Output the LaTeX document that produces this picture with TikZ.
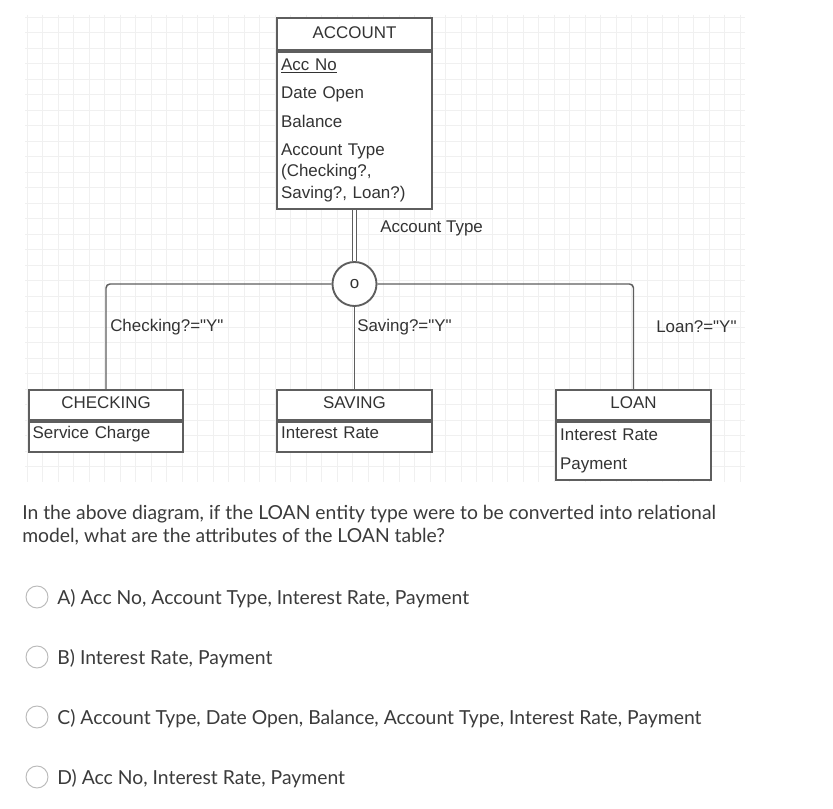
\documentclass[tikz,border=0pt]{standalone}
\usepackage{fontspec}
\setmainfont{Liberation Sans}
\newfontfamily\quizfont{Lato}
\usepackage{xcolor}
\usetikzlibrary{positioning, calc}
\definecolor{lineGray}{HTML}{5E5E5E}
\definecolor{textGray}{HTML}{333333}
\definecolor{gridGray}{HTML}{F0F0F0}
\definecolor{quizGray}{HTML}{3B3B3B}
\tikzset{
  entity/.style={rectangle, draw=lineGray, line width=1.4pt, minimum width=116pt, minimum height=22.5pt, text=textGray, font=\fontsize{12.7}{16}\selectfont, inner sep=0pt, fill=white}, % entity header
  attrs/.style={entity, align=left, text width=110pt, inner xsep=3pt}, % attribute part
  link/.style={draw=lineGray, line width=1.1pt},
  gridLine/.style={draw=gridGray, line width=0.5pt},
  label/.style={text=textGray, font=\fontsize{12.7}{16}\selectfont, inner sep=0pt}
}
\newcommand{\yesval}{=\textquotedbl Y\textquotedbl}

\begin{document}
\begin{tikzpicture}[x=0.75pt, y=-0.75pt]
    \tikzset{
      disjoint/.style={circle, draw=lineGray, line width=1.4pt, fill=white, minimum size=33pt, inner sep=0pt, text=textGray, font=\fontsize{12.7}{16}\selectfont},
      doubleLink/.style={draw=lineGray, line width=0.9pt, double=white, double distance=1.6pt},
      radio/.style={circle, draw=gray!55, line width=0.7pt, minimum size=16.5pt, inner sep=0pt},
      question/.style={text=quizGray, font=\quizfont\fontsize{14.5}{17.25}\selectfont, inner sep=0pt, align=left}
    }
    \useasboundingbox[fill=white] (0,0) rectangle (833,809);

    % Grid
    \begin{scope}
      \clip (25,15) rectangle (745,482);
      \foreach \gx in {0,...,46} \draw[gridLine] ({27+15.5*\gx},15) -- ++(0,467);
      \foreach \gy in {0,...,30} \draw[gridLine] (25,{17+15.5*\gy}) -- ++(720,0);
    \end{scope}

    % Nodes
    \node [entity, minimum height=24pt, text depth=1.5pt] (acctHead) at (354.5,34) {ACCOUNT};
    \node [attrs, minimum height=117.75pt, below=0pt of acctHead] (acctBody) {\underline{Acc No}\\[5.5pt] Date Open\\[5.5pt] Balance\\[5pt] Account Type\\ (Checking?,\\[0.5pt] Saving?, Loan?)};

    \node [disjoint] (disj) at (354.5,284) {o};

    \node [entity, text depth=4pt] (checkHead) at (106,405) {CHECKING};
    \node [attrs, below=0pt of checkHead, text depth=7pt] (checkBody) {Service Charge};
    \node [entity, text depth=4pt] (saveHead) at (354.5,405) {SAVING};
    \node [attrs, below=0pt of saveHead, text depth=7pt] (saveBody) {Interest Rate};
    \node [entity, text depth=4pt] (loanHead) at (633.5,405) {LOAN};
    \node [attrs, minimum height=43.5pt, below=0pt of loanHead] (loanBody) {Interest Rate\\[5.5pt] Payment};

    \node [label, anchor=west] (typeLabel) at (380,228) {Account Type};
    \node [label, anchor=west] (checkLabel) at (110,327) {Checking?\yesval};
    \node [label, anchor=west] (saveLabel) at (357,327) {Saving?\yesval};
    \node [label, anchor=west] (loanLabel) at (656,327) {Loan?\yesval};

    % Edges
    \draw[doubleLink] (acctBody.south) -- (disj.north);
    \draw[link, rounded corners=3pt] (disj.west) -| (checkHead.north);
    \draw[link] (disj.south) -- (saveHead.north);
    \draw[link, rounded corners=3pt] (disj.east) -| (loanHead.north);

    % Question
    \node [question, anchor=north west] (questionText) at (22,505) {In the above diagram, if the LOAN entity type were to be converted into relational\\ model, what are the attributes of the LOAN table?};

    \node [radio] (optA) at (37,597) {};
    \node [question, right=6.5pt of optA, yshift=-1.5pt] (ansA) {A) Acc No, Account Type, Interest Rate, Payment};
    \node [radio] (optB) at (37,657) {};
    \node [question, right=6.5pt of optB, yshift=-1.5pt] (ansB) {B) Interest Rate, Payment};
    \node [radio] (optC) at (37,717) {};
    \node [question, right=6.5pt of optC, yshift=-1.5pt] (ansC) {C) Account Type, Date Open, Balance, Account Type, Interest Rate, Payment};
    \node [radio] (optD) at (37,777) {};
    \node [question, right=6.5pt of optD, yshift=-1.5pt] (ansD) {D) Acc No, Interest Rate, Payment};

\end{tikzpicture}
\end{document}
